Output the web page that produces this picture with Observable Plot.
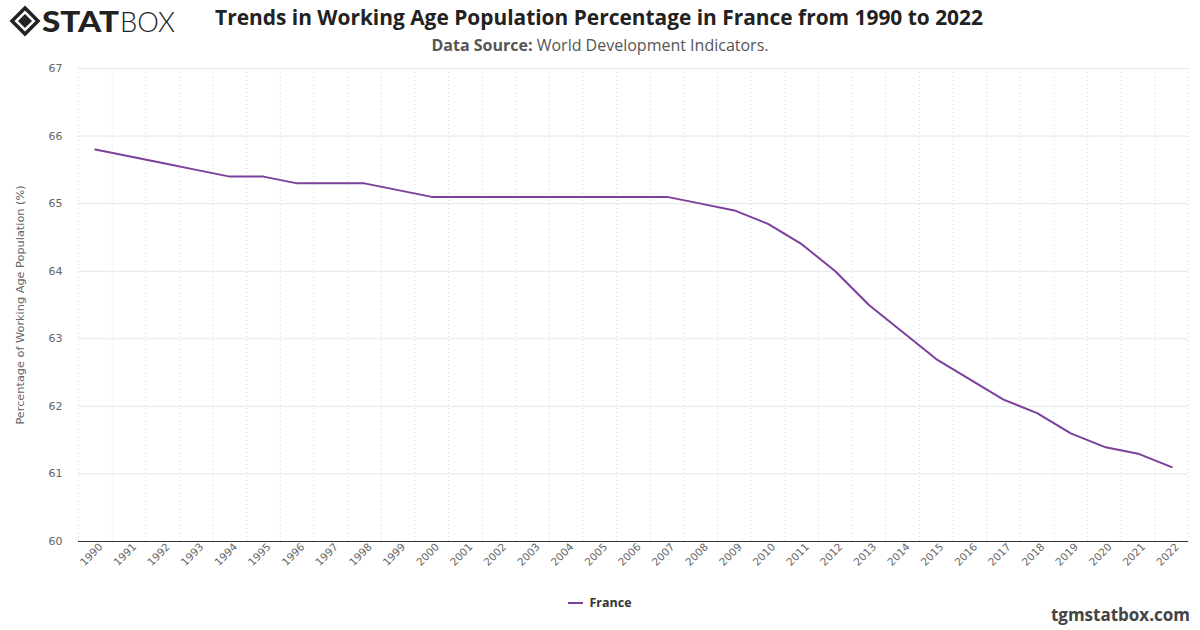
<!DOCTYPE html>
<html>
<head>
<meta charset="utf-8">
<script src="https://cdn.jsdelivr.net/npm/d3@7"></script>
<script src="https://cdn.jsdelivr.net/npm/@observablehq/plot@0.6"></script>
<style>
  body { margin: 0; background: #fff; width: 1200px; height: 630px; position: relative; overflow: hidden; font-family: "DejaVu Sans", sans-serif; }
  #header { position: absolute; left: 0; top: 0; width: 1200px; height: 60px; }
  #logo { position: absolute; left: 8px; top: 4px; }
  #title { position: absolute; left: 0; width: 1198px; top: 3px; text-align: center; font: 700 20.9px "Open Sans", sans-serif; color: #222; }
  #subtitle { position: absolute; left: 0; width: 1200px; top: 34px; text-align: center; font: 400 16px "Open Sans", sans-serif; color: #555; }
  #subtitle b { font-weight: 700; }
  #chart { position: absolute; left: 0; top: 60px; }
  #legend { position: absolute; left: 0; width: 1200px; top: 594px; text-align: center; font: 700 12.5px "Liberation Sans Narrow", "Open Sans", sans-serif; color: #333; }
  #legend .swatch { display: inline-block; width: 15px; height: 2px; background: #7b3f9c; vertical-align: middle; margin-right: 6px; position: relative; top: -1px; }
  #footer { position: absolute; right: 10px; top: 603px; font: 700 17px "Liberation Sans Narrow", "Open Sans", sans-serif; color: #444; }
</style>
</head>
<body>
<div id="header">
  <svg id="logo" width="190" height="36" viewBox="0 0 190 36">
    <polygon points="17,4 30,17 17,30 4,17" fill="none" stroke="#222" stroke-width="3.5"/>
    <polygon points="17,10 24,17 17,24 10,17" fill="#222"/>
    <text x="34" y="28" font-family="Lato, 'Open Sans', sans-serif" font-weight="900" font-size="28" fill="#222" textLength="77" lengthAdjust="spacingAndGlyphs">STAT</text>
    <text x="112" y="28" font-family="Lato, 'Open Sans', sans-serif" font-weight="300" font-size="28" fill="#222" textLength="55" lengthAdjust="spacingAndGlyphs">BOX</text>
  </svg>
  <div id="title">Trends in Working Age Population Percentage in France from 1990 to 2022</div>
  <div id="subtitle"><b>Data Source:</b> World Development Indicators.</div>
</div>
<div id="chart"></div>
<div id="legend"><span class="swatch"></span>France</div>
<div id="footer">tgmstatbox.com</div>
<script>
// Working age population (% of total), France
const years = [1990, 1991, 1992, 1993, 1994, 1995, 1996, 1997, 1998, 1999, 2000,
  2001, 2002, 2003, 2004, 2005, 2006, 2007, 2008, 2009, 2010, 2011,
  2012, 2013, 2014, 2015, 2016, 2017, 2018, 2019, 2020, 2021, 2022];
const france = [65.8, 65.7, 65.6, 65.5, 65.4, 65.4, 65.3, 65.3, 65.3, 65.2, 65.1,
  65.1, 65.1, 65.1, 65.1, 65.1, 65.1, 65.1, 65.0, 64.9, 64.7, 64.4,
  64.0, 63.5, 63.1, 62.7, 62.4, 62.1, 61.9, 61.6, 61.4, 61.3, 61.1];
const yTicks = [60, 61, 62, 63, 64, 65, 66, 67];
const yLabel = "Percentage of Working Age Population (%)";

const data = years.map((year, i) => ({ year, value: france[i] }));
// band edges between the yearly categories
const bandEdges = [...years.map(y => y - 0.5), years[years.length - 1] + 0.5];

const chart = Plot.plot({
  width: 1200,
  height: 520,
  marginLeft: 78,
  marginRight: 12,
  marginTop: 8,
  marginBottom: 39,
  style: { fontFamily: "'DejaVu Sans', sans-serif", background: "transparent" },
  x: { type: "linear", domain: [years[0] - 0.5, years[years.length - 1] + 0.5], axis: null },
  y: { domain: [60, 67], axis: null },
  marks: [
    Plot.ruleX(bandEdges, { stroke: "#d8d8d8", strokeDasharray: "1,3" }),
    Plot.ruleY(yTicks.slice(1), { stroke: "#e6e6e6" }),
    Plot.ruleY([yTicks[0]], { stroke: "#333", strokeWidth: 1.2 }),
    Plot.lineY(data, { x: "year", y: "value", stroke: "#7b3f9c", strokeWidth: 2 }),
    Plot.text(yTicks, { y: d => d, text: d => String(d), frameAnchor: "left", dx: -16, textAnchor: "end", fill: "#666", fontSize: 11 }),
    Plot.text(years, { x: d => d, text: d => String(d), frameAnchor: "bottom", rotate: -45, textAnchor: "end", dx: 8, dy: 6, fill: "#666", fontSize: 10.5 }),
    Plot.text([yLabel], { frameAnchor: "left", dx: -58, rotate: -90, textAnchor: "middle", fill: "#666", fontSize: 11.3 })
  ]
});
document.getElementById("chart").appendChild(chart);
</script>
</body>
</html>
